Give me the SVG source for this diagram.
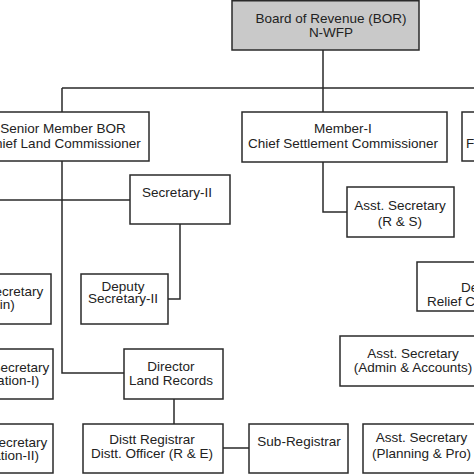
<svg xmlns="http://www.w3.org/2000/svg" width="474" height="474" viewBox="0 0 474 474">
<style>
.b{fill:#fff;stroke:#2a2a2a;stroke-width:1.5}
.g{fill:#c9c9c9;stroke:#2a2a2a;stroke-width:1.5}
.c{fill:none;stroke:#2a2a2a;stroke-width:1.5}
text{font-family:"Liberation Sans",Arial,sans-serif;font-size:13.5px;fill:#222;text-anchor:middle}
.s{text-anchor:start}
</style>
<rect width="474" height="474" fill="#fff"/>
<g id="connectors">
<path class="c" d="M323 50V88M62 88H474M62 88V112M323 88V112"/>
<path class="c" d="M62 161V373H124M0 200H130"/>
<path class="c" d="M180 224V299H168"/>
<path class="c" d="M323 162V212H347"/>
<path class="c" d="M174 399V424M223 448H249"/>
</g>
<g id="bor"><rect class="g" x="232" y="0.75" width="187" height="49.25"/><text x="331" y="23">Board of Revenue (BOR)</text><text x="331" y="36.5">N-WFP</text></g>
<g id="senior"><rect class="b" x="-20" y="112" width="169" height="49"/><text x="63" y="133">Senior Member BOR</text><text x="63" y="148">Chief Land Commissioner</text></g>
<g id="member1"><rect class="b" x="242" y="112" width="205" height="50"/><text x="343" y="133">Member-I</text><text x="343" y="148">Chief Settlement Commissioner</text></g>
<g id="member2"><rect class="b" x="462" y="112" width="30" height="49"/><text class="s" x="466" y="148">Financial Commissioner</text></g>
<g id="secretary2"><rect class="b" x="130" y="175" width="100" height="49"/><text x="177" y="197">Secretary-II</text></g>
<g id="as-rs"><rect class="b" x="347" y="187" width="107" height="50"/><text x="400" y="209.5">Asst. Secretary</text><text x="400" y="226">(R &amp; S)</text></g>
<g id="dep-sec2"><rect class="b" x="81" y="274" width="87" height="50"/><text x="123" y="291">Deputy</text><text x="123" y="303">Secretary-II</text></g>
<g id="ds-admin"><rect class="b" x="-60" y="274" width="111" height="50"/><text x="-9" y="296">Deputy Secretary</text><text x="-9" y="309">(Admin)</text></g>
<g id="as-lit1"><rect class="b" x="-60" y="349" width="113" height="50"/><text x="3.5" y="372">Asst. Secretary</text><text x="3.5" y="385">(Litigation-I)</text></g>
<g id="as-lit2"><rect class="b" x="-60" y="424" width="113" height="49"/><text x="1.5" y="447">Asst. Secretary</text><text x="1.5" y="459.5">(Litigation-II)</text></g>
<g id="relief"><rect class="b" x="417" y="262" width="70" height="49"/><text class="s" x="461" y="292">Deputy</text><text class="s" x="427" y="306">Relief Commissioner</text></g>
<g id="director"><rect class="b" x="124" y="349" width="99" height="50"/><text x="171" y="371">Director</text><text x="171" y="384.5">Land Records</text></g>
<g id="as-admin"><rect class="b" x="340" y="336" width="150" height="50"/><text x="413" y="358">Asst. Secretary</text><text x="413" y="372">(Admin &amp; Accounts)</text></g>
<g id="distt"><rect class="b" x="83" y="424" width="140" height="49"/><text x="152" y="444">Distt Registrar</text><text x="152" y="458">Distt. Officer (R &amp; E)</text></g>
<g id="subreg"><rect class="b" x="249" y="424" width="99" height="49"/><text x="299" y="446">Sub-Registrar</text></g>
<g id="as-plan"><rect class="b" x="363" y="424" width="130" height="49"/><text x="421.5" y="442">Asst. Secretary</text><text x="421.5" y="458">(Planning &amp; Pro)</text></g>
</svg>
